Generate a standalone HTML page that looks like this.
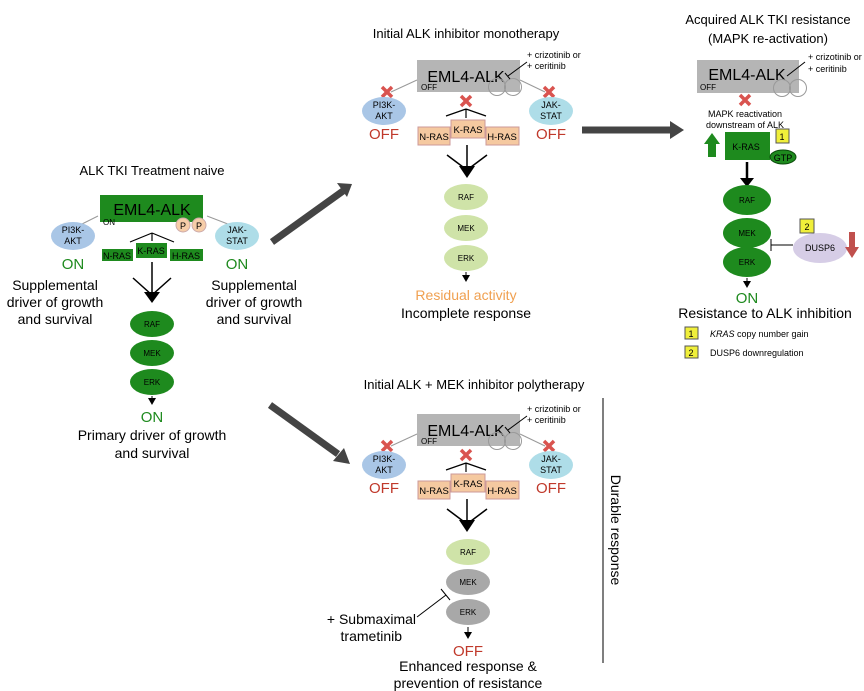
<!DOCTYPE html>
<html><head><meta charset="utf-8"><style>
body{margin:0;background:#fff}
svg{display:block;font-family:"Liberation Sans",Arial,sans-serif}
</style></head><body>
<svg width="864" height="691" viewBox="0 0 864 691" xmlns="http://www.w3.org/2000/svg">
<defs>
<marker id="ah" markerWidth="8" markerHeight="8" refX="6" refY="4" orient="auto" markerUnits="userSpaceOnUse"><path d="M0,0 L7,4 L0,8 z" fill="#000"/></marker>
<g id="xm"><path d="M-5,-5 L5,5 M5,-5 L-5,5" stroke="#d9534f" stroke-width="3.5"/></g>
<g id="grayhead">
<rect x="417" y="60" width="103" height="32" fill="#b5b5b5"/>
<text x="466" y="82" font-size="16" text-anchor="middle">EML4-ALK</text>
<text x="421" y="90" font-size="8">OFF</text>
<circle cx="497" cy="87" r="8.5" fill="none" stroke="#999"/><circle cx="513" cy="87" r="8.5" fill="none" stroke="#999"/>
<line x1="508" y1="76" x2="527" y2="62" stroke="#000" stroke-width="1"/><line x1="505" y1="73" x2="510" y2="79" stroke="#000"/>
<text x="527" y="58" font-size="9">+ crizotinib or</text><text x="527" y="69" font-size="9">+ ceritinib</text>
<line x1="417" y1="80" x2="391" y2="92" stroke="#999"/><line x1="520" y1="80" x2="545" y2="92" stroke="#999"/>
<use href="#xm" x="387" y="92"/><use href="#xm" x="549" y="92"/><use href="#xm" x="466" y="101"/>
<ellipse cx="384" cy="111" rx="22" ry="14" fill="#a9c6e6"/>
<text x="384" y="108" font-size="9" text-anchor="middle">PI3K-</text><text x="384" y="119" font-size="9" text-anchor="middle">AKT</text>
<ellipse cx="551" cy="111" rx="22" ry="14" fill="#aedde8"/>
<text x="551" y="108" font-size="9" text-anchor="middle">JAK-</text><text x="551" y="119" font-size="9" text-anchor="middle">STAT</text>
<text x="384" y="139" font-size="15" fill="#c0392b" text-anchor="middle">OFF</text>
<text x="551" y="139" font-size="15" fill="#c0392b" text-anchor="middle">OFF</text>
<path d="M466,109 L466,118 M466,109 L446,116 M466,109 L486,116" stroke="#000" stroke-width="1.2" fill="none"/>
<rect x="418" y="127" width="32" height="18" fill="#f5c9a0" stroke="#c99"/><text x="434" y="140" font-size="9.5" text-anchor="middle">N-RAS</text>
<rect x="451" y="120" width="34" height="18" fill="#f5c9a0" stroke="#c99"/><text x="468" y="133" font-size="9.5" text-anchor="middle">K-RAS</text>
<rect x="486" y="127" width="33" height="18" fill="#f5c9a0" stroke="#c99"/><text x="502" y="140" font-size="9.5" text-anchor="middle">H-RAS</text>
<path d="M467,145 L467,170 M447,155 L467,170 L487,155" stroke="#000" stroke-width="1.5" fill="none"/>
<path d="M459,166 L475,166 L467,178 z" fill="#000"/>
</g>
</defs>

<!-- LEFT PANEL -->
<text x="152" y="175" font-size="13" text-anchor="middle">ALK TKI Treatment naive</text>
<rect x="100" y="195" width="103" height="27" fill="#1e8a1e"/>
<text x="152" y="215" font-size="16" text-anchor="middle">EML4-ALK</text>
<text x="103" y="225" font-size="8">ON</text>
<circle cx="183" cy="225" r="7" fill="#f6cda8" stroke="#caa"/><text x="183" y="229" font-size="9" text-anchor="middle">P</text>
<circle cx="199" cy="225" r="7" fill="#f6cda8" stroke="#caa"/><text x="199" y="229" font-size="9" text-anchor="middle">P</text>
<line x1="98" y1="216" x2="80" y2="225" stroke="#999"/><line x1="207" y1="216" x2="233" y2="226" stroke="#999"/>
<ellipse cx="73" cy="236" rx="22" ry="14" fill="#a9c6e6"/>
<text x="73" y="233" font-size="9" text-anchor="middle">PI3K-</text><text x="73" y="244" font-size="9" text-anchor="middle">AKT</text>
<ellipse cx="237" cy="236" rx="22" ry="14" fill="#aedde8"/>
<text x="237" y="233" font-size="9" text-anchor="middle">JAK-</text><text x="237" y="244" font-size="9" text-anchor="middle">STAT</text>
<text x="73" y="269" font-size="15" fill="#1e8a1e" text-anchor="middle">ON</text>
<text x="237" y="269" font-size="15" fill="#1e8a1e" text-anchor="middle">ON</text>
<path d="M152,233 L152,241 M152,233 L130,242 M152,233 L174,242" stroke="#000" stroke-width="1.2" fill="none"/>
<rect x="102" y="249" width="31" height="12" fill="#1e8a1e"/><text x="117" y="259" font-size="9" text-anchor="middle">N-RAS</text>
<rect x="136" y="243" width="31" height="15" fill="#1e8a1e"/><text x="151" y="254" font-size="9" text-anchor="middle">K-RAS</text>
<rect x="170" y="249" width="33" height="12" fill="#1e8a1e"/><text x="186" y="259" font-size="9" text-anchor="middle">H-RAS</text>
<path d="M152,262 L152,295 M133,278 L152,295 L171,278" stroke="#000" stroke-width="1.5" fill="none"/>
<path d="M144,292 L160,292 L152,303 z" fill="#000"/>
<text x="55" y="290" font-size="14" text-anchor="middle">Supplemental</text>
<text x="55" y="307" font-size="14" text-anchor="middle">driver of growth</text>
<text x="55" y="324" font-size="14" text-anchor="middle">and survival</text>
<text x="254" y="290" font-size="14" text-anchor="middle">Supplemental</text>
<text x="254" y="307" font-size="14" text-anchor="middle">driver of growth</text>
<text x="254" y="324" font-size="14" text-anchor="middle">and survival</text>
<ellipse cx="152" cy="324" rx="22" ry="13" fill="#1e8a1e"/><text x="152" y="327" font-size="8" text-anchor="middle">RAF</text>
<ellipse cx="152" cy="353" rx="22" ry="13" fill="#1e8a1e"/><text x="152" y="356" font-size="8" text-anchor="middle">MEK</text>
<ellipse cx="152" cy="382" rx="22" ry="13" fill="#1e8a1e"/><text x="152" y="385" font-size="8" text-anchor="middle">ERK</text>
<line x1="152" y1="396" x2="152" y2="404" stroke="#000" marker-end="url(#ah)"/>
<text x="152" y="422" font-size="15" fill="#1e8a1e" text-anchor="middle">ON</text>
<text x="152" y="440" font-size="14" text-anchor="middle">Primary driver of growth</text>
<text x="152" y="458" font-size="14" text-anchor="middle">and survival</text>

<!-- big gray arrows -->
<line x1="272" y1="242" x2="343" y2="191" stroke="#444" stroke-width="7"/>
<path d="M337,183 L352,184 L347,197 z" fill="#444"/>
<line x1="270" y1="405" x2="338" y2="454" stroke="#444" stroke-width="7"/>
<path d="M333,461 L350,464 L344,448 z" fill="#444"/>
<line x1="582" y1="130" x2="672" y2="130" stroke="#444" stroke-width="7"/>
<path d="M670,121 L684,130 L670,139 z" fill="#444"/>

<!-- MIDDLE TOP -->
<text x="466" y="38" font-size="13" text-anchor="middle">Initial ALK inhibitor monotherapy</text>
<use href="#grayhead"/>
<ellipse cx="466" cy="197" rx="22" ry="13" fill="#cfe3a8"/><text x="466" y="200" font-size="8" text-anchor="middle">RAF</text>
<ellipse cx="466" cy="228" rx="22" ry="13" fill="#cfe3a8"/><text x="466" y="231" font-size="8" text-anchor="middle">MEK</text>
<ellipse cx="466" cy="258" rx="22" ry="13" fill="#cfe3a8"/><text x="466" y="261" font-size="8" text-anchor="middle">ERK</text>
<line x1="466" y1="272" x2="466" y2="281" stroke="#000" marker-end="url(#ah)"/>
<text x="466" y="300" font-size="14" fill="#f0a050" text-anchor="middle">Residual activity</text>
<text x="466" y="318" font-size="14" text-anchor="middle">Incomplete response</text>

<!-- MIDDLE BOTTOM -->
<text x="474" y="389" font-size="13" text-anchor="middle">Initial ALK + MEK inhibitor polytherapy</text>
<use href="#grayhead" y="354"/>
<ellipse cx="468" cy="552" rx="22" ry="13" fill="#cfe3a8"/><text x="468" y="555" font-size="8" text-anchor="middle">RAF</text>
<ellipse cx="468" cy="582" rx="22" ry="13" fill="#a8a8a8"/><text x="468" y="585" font-size="8" text-anchor="middle">MEK</text>
<ellipse cx="468" cy="612" rx="22" ry="13" fill="#a8a8a8"/><text x="468" y="615" font-size="8" text-anchor="middle">ERK</text>
<line x1="417" y1="617" x2="446" y2="595" stroke="#000"/><line x1="441" y1="589" x2="450" y2="600" stroke="#000"/>
<text x="416" y="624" font-size="14" text-anchor="end">+ Submaximal</text>
<text x="402" y="641" font-size="14" text-anchor="end">trametinib</text>
<line x1="468" y1="627" x2="468" y2="638" stroke="#000" marker-end="url(#ah)"/>
<text x="468" y="656" font-size="15" fill="#c0392b" text-anchor="middle">OFF</text>
<text x="468" y="671" font-size="14" text-anchor="middle">Enhanced response &amp;</text>
<text x="468" y="688" font-size="14" text-anchor="middle">prevention of resistance</text>
<line x1="603" y1="398" x2="603" y2="663" stroke="#555" stroke-width="1.5"/>
<text transform="translate(611,530) rotate(90)" font-size="14" text-anchor="middle">Durable response</text>

<!-- RIGHT -->
<text x="768" y="24" font-size="13" text-anchor="middle">Acquired ALK TKI resistance</text>
<text x="768" y="43" font-size="13" text-anchor="middle">(MAPK re-activation)</text>
<rect x="697" y="60" width="102" height="33" fill="#b5b5b5"/>
<text x="747" y="80" font-size="16" text-anchor="middle">EML4-ALK</text>
<text x="700" y="90" font-size="8">OFF</text>
<circle cx="782" cy="88" r="8.5" fill="none" stroke="#999"/><circle cx="798" cy="88" r="8.5" fill="none" stroke="#999"/>
<line x1="787" y1="76" x2="805" y2="62" stroke="#000"/>
<text x="808" y="60" font-size="9">+ crizotinib or</text><text x="808" y="72" font-size="9">+ ceritinib</text>
<use href="#xm" x="745" y="100"/>
<text x="745" y="117" font-size="9" text-anchor="middle">MAPK reactivation</text>
<text x="745" y="128" font-size="9" text-anchor="middle">downstream of ALK</text>
<path d="M712,133 L720,144 L716,144 L716,157 L708,157 L708,144 L704,144 z" fill="#1e8a1e"/>
<rect x="725" y="132" width="45" height="28" fill="#1e8a1e"/>
<text x="746" y="150" font-size="9" text-anchor="middle">K-RAS</text>
<rect x="776" y="129" width="13" height="14" fill="#f0ef3a" stroke="#555"/><text x="782" y="140" font-size="9" text-anchor="middle">1</text>
<ellipse cx="783" cy="157" rx="13" ry="7" fill="#1e8a1e" stroke="#0a4a0a"/><text x="783" y="161" font-size="9" text-anchor="middle">GTP</text>
<line x1="747" y1="162" x2="747" y2="180" stroke="#000" stroke-width="2.5"/>
<path d="M740,178 L754,178 L747,187 z" fill="#000"/>
<ellipse cx="747" cy="200" rx="24" ry="15" fill="#1e8a1e"/><text x="747" y="203" font-size="8" text-anchor="middle">RAF</text>
<ellipse cx="747" cy="233" rx="24" ry="15" fill="#1e8a1e"/><text x="747" y="236" font-size="8" text-anchor="middle">MEK</text>
<ellipse cx="747" cy="262" rx="24" ry="15" fill="#1e8a1e"/><text x="747" y="265" font-size="8" text-anchor="middle">ERK</text>
<rect x="800" y="219" width="14" height="14" fill="#f0ef3a" stroke="#555"/><text x="807" y="230" font-size="9" text-anchor="middle">2</text>
<ellipse cx="820" cy="248" rx="27" ry="15" fill="#d6cde6"/><text x="820" y="251" font-size="9" text-anchor="middle">DUSP6</text>
<path d="M849,232 L855,232 L855,247 L859,247 L852,258 L845,247 L849,247 z" fill="#c0504d"/>
<line x1="793" y1="245" x2="771" y2="245" stroke="#000"/><line x1="771" y1="239" x2="771" y2="251" stroke="#000"/>
<line x1="747" y1="278" x2="747" y2="287" stroke="#000" marker-end="url(#ah)"/>
<text x="747" y="303" font-size="15" fill="#1e8a1e" text-anchor="middle">ON</text>
<text x="765" y="318" font-size="14" text-anchor="middle">Resistance to ALK inhibition</text>
<rect x="685" y="327" width="13" height="12" fill="#f0ef3a" stroke="#555"/><text x="691" y="337" font-size="9" text-anchor="middle">1</text>
<text x="710" y="337" font-size="9"><tspan font-style="italic">KRAS</tspan> copy number gain</text>
<rect x="685" y="346" width="13" height="12" fill="#f0ef3a" stroke="#555"/><text x="691" y="356" font-size="9" text-anchor="middle">2</text>
<text x="710" y="356" font-size="9">DUSP6 downregulation</text>
</svg>
</body></html>
